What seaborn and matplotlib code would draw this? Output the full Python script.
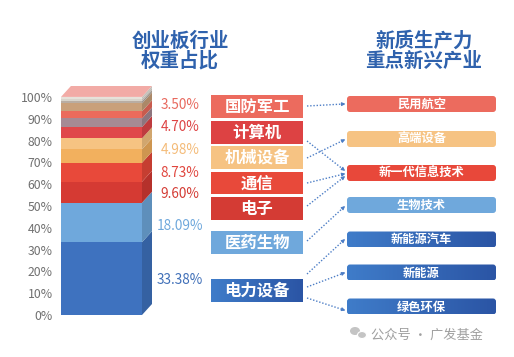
import numpy as np
import pandas as pd
import matplotlib
matplotlib.use('Agg')
import matplotlib.pyplot as plt
import seaborn as sns
from matplotlib.patches import Polygon, Rectangle, FancyBboxPatch, Ellipse
from matplotlib.colors import LinearSegmentedColormap, to_rgb

# 柱子各段权重(自下而上), 前七段按图中标注, 其余为估读
seg_values = [33.38, 18.09, 9.60, 8.73, 6.2, 5.0, 5.2, 3.9, 3.3, 3.6, 1.0, 0.9, 1.1]
seg_colors = ['#3E72BF', '#6FA8DC', '#D53A33', '#E8493A', '#F2B05E', '#F6C382',
              '#E0474A', '#A68A94', '#EB6B5C', '#C9A07A', '#B9ADA2', '#D8D4CB', '#E6E2DA']
top_color = '#F2ABA6'

# 左侧行业
industries = ['国防军工', '计算机', '机械设备', '通信', '电子', '医药生物', '电力设备']
weights = [3.50, 4.70, 4.98, 8.73, 9.60, 18.09, 33.38]
ind_colors = ['#EC6B5E', '#DD4243', '#F6C383', '#E8493A', '#D43B34', '#6FA8DC', 'grad']
label_colors = ['#E8695E', '#DD4243', '#F4BB78', '#E0453D', '#D43B34', '#6FA8DC', '#3F6FB8']

# 右侧新兴产业
sectors = ['民用航空', '高端设备', '新一代信息技术', '生物技术', '新能源汽车', '新能源', '绿色环保']
sec_colors = ['#EC6B5E', '#F6C383', '#E8483A', '#6FA8DC', 'grad', 'grad', 'grad']

# 对应关系 (左侧序号, 右侧序号)
links = [(0, 0), (1, 2), (2, 1), (3, 2), (4, 2), (5, 3), (6, 4), (6, 5), (6, 6)]

sns.set_theme(style='white')
plt.rcParams['font.family'] = ['Noto Sans CJK SC', 'DejaVu Sans']

W, H = 514, 357
fig = plt.figure(figsize=(W / 100, H / 100), dpi=100)
fig.patch.set_facecolor('white')

# ---- 堆叠柱 ----
bar_px = (61, 152, 86, 315)  # left, right, top, bottom 像素
ax = fig.add_axes([bar_px[0] / W, (H - bar_px[3]) / H,
                   (bar_px[1] - bar_px[0]) / W, (bar_px[3] - bar_px[2]) / H])
cum = np.cumsum(seg_values)
df = pd.DataFrame({'cat': ['创业板'] * len(seg_values), 'cum': cum, 'seg': range(len(seg_values))})
# 从最高的累计值往下画, 形成堆叠效果
for i in range(len(seg_values) - 1, -1, -1):
    sns.barplot(data=df.iloc[[i]], x='cat', y='cum', color=seg_colors[i],
                saturation=1, width=0.8, ax=ax, linewidth=0)

dx = 0.8 * 10 / 81
dy = 105 * 11 / 229
def darker(c, f=0.85):
    r, g, b = to_rgb(c)
    return (r * f, g * f, b * f)

bottoms = np.concatenate([[0], cum[:-1]])
for b, t, c in zip(bottoms, cum, seg_colors):
    ax.add_patch(Polygon([(0.4, b), (0.4 + dx, b + dy), (0.4 + dx, t + dy), (0.4, t)],
                         closed=True, fc=darker(c), ec='none'))
ax.add_patch(Polygon([(-0.4, cum[-1]), (-0.4 + dx, cum[-1] + dy), (0.4 + dx, cum[-1] + dy),
                      (0.4, cum[-1])], closed=True, fc=top_color, ec='none'))
ax.set_xlim(-0.4, 0.4 + dx)
ax.set_ylim(0, 105)
ax.set_yticks(range(0, 101, 10))
ax.set_yticklabels([f'{v}%' for v in range(0, 101, 10)], color='#707070', fontsize=8.8)
ax.tick_params(axis='y', length=0, pad=6)
ax.set_xticks([])
ax.set_xlabel('')
ax.set_ylabel('')
for s in ax.spines.values():
    s.set_visible(False)
ax.patch.set_alpha(0)

# ---- 叠加层: 标注与方框 ----
ov = fig.add_axes([0, 0, 1, 1])
ov.set_xlim(0, W)
ov.set_ylim(H, 0)
ov.axis('off')
ov.patch.set_alpha(0)

blue_cmap = LinearSegmentedColormap.from_list('bl', ['#3F7CC9', '#2B55A5'])
grad = np.linspace(0, 1, 64).reshape(1, -1)

ov.text(180, 51, '创业板行业\n权重占比', ha='center', va='center', fontsize=14,
        fontweight='bold', color='#2F62AD', linespacing=1.05)
ov.text(424, 51, '新质生产力\n重点新兴产业', ha='center', va='center', fontsize=14,
        fontweight='bold', color='#2F62AD', linespacing=1.05)

label_y = [105, 127, 150, 173, 194, 226, 280]
box_y = [(95, 118), (121, 144), (146, 169), (172, 194), (197, 220), (231, 254), (279, 302)]
for name, w, c, lc, ly, (y0, y1) in zip(industries, weights, ind_colors, label_colors, label_y, box_y):
    ov.text(180, ly, f'{w:.2f}%', ha='center', va='center', fontsize=9.8, color=lc)
    if c == 'grad':
        ov.imshow(grad, cmap=blue_cmap, extent=(211, 303, y1, y0), aspect='auto', zorder=2)
    else:
        ov.add_patch(Rectangle((211, y0), 92, y1 - y0, fc=c, ec='none', zorder=2))
    ov.text(257, (y0 + y1) / 2 + 0.5, name, ha='center', va='center', fontsize=11.8,
            fontweight='bold', color='white', zorder=3)

sec_y = [104, 139, 173, 205, 239.5, 272.5, 306.5]
for name, c, cy in zip(sectors, sec_colors, sec_y):
    x0, x1, y0, y1 = 347, 496, cy - 8, cy + 8
    box = FancyBboxPatch((x0, y0), x1 - x0, y1 - y0, boxstyle='round,pad=0,rounding_size=3',
                         fc=c if c != 'grad' else 'none', ec='none', zorder=2)
    ov.add_patch(box)
    if c == 'grad':
        im = ov.imshow(grad, cmap=blue_cmap, extent=(x0, x1, y1, y0), aspect='auto', zorder=2)
        im.set_clip_path(box)
    ov.text((x0 + x1) / 2, cy + 0.5, name, ha='center', va='center', fontsize=8.8,
            fontweight='bold', color='white', zorder=3)

# 连线起止点
start_y = {(0, 0): 106, (1, 2): 141, (2, 1): 158, (3, 2): 183, (4, 2): 206,
           (5, 3): 241, (6, 4): 274, (6, 5): 287, (6, 6): 298}
end_y = {(0, 0): 104, (1, 2): 170, (2, 1): 140, (3, 2): 174, (4, 2): 177,
         (5, 3): 207, (6, 4): 240, (6, 5): 273, (6, 6): 310}
for l in links:
    x0, y0, x1, y1 = 307, start_y[l], 344, end_y[l]
    ov.plot([x0, x1], [y0, y1], color='#4D7EC6', lw=1, ls=(0, (1, 1.3)), zorder=1)
    vx, vy = x1 - x0, y1 - y0
    n = np.hypot(vx, vy)
    ov.annotate('', xy=(x1 + 1.5 * vx / n, y1 + 1.5 * vy / n), xytext=(x1 - 2 * vx / n, y1 - 2 * vy / n),
                arrowprops=dict(arrowstyle='-|>', color='#4D7EC6', lw=0.8, mutation_scale=5,
                                shrinkA=0, shrinkB=0))

# 水印
ov.add_patch(Ellipse((355, 331), 10, 8, fc='#C4C4C4', ec='none'))
ov.add_patch(Ellipse((362, 335), 9, 7, fc='#C4C4C4', ec='white', lw=0.8))
ov.text(371, 335, '公众号 · 广发基金', ha='left', va='center', fontsize=9.5, color='#A0A0A0')

fig.savefig('out.png', dpi=100, facecolor='white')
